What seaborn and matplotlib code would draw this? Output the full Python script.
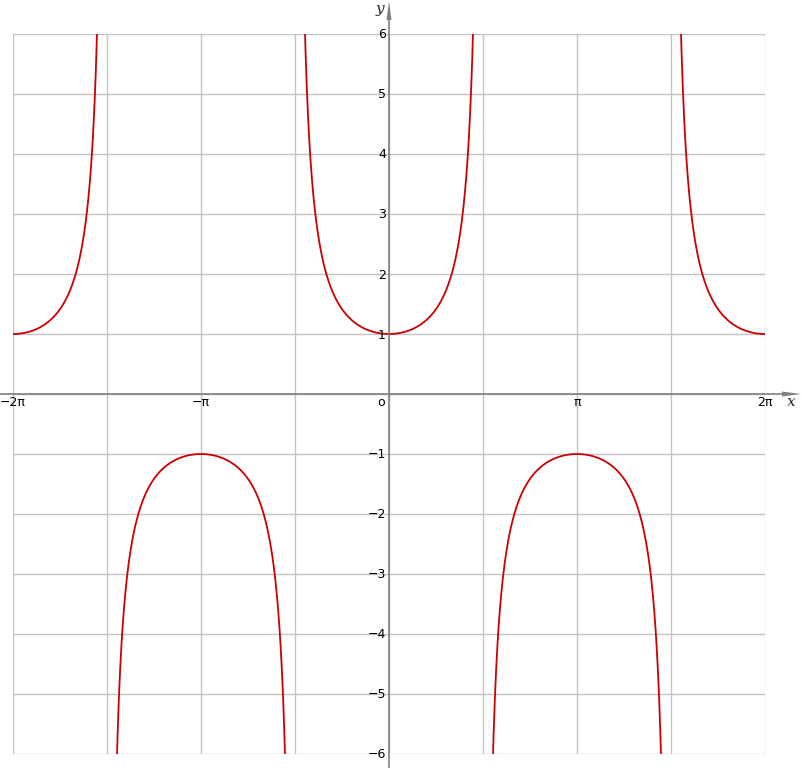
import numpy as np
import pandas as pd
import matplotlib
matplotlib.use("Agg")
import matplotlib.pyplot as plt
import seaborn as sns

# ---- data ----
# function plotted: y = sec(x) = 1 / cos(x)
x_min, x_max = -2 * np.pi, 2 * np.pi
y_min, y_max = -6, 6
# branches between the vertical asymptotes (odd multiples of pi/2)
branch_edges = [-2 * np.pi, -1.5 * np.pi, -0.5 * np.pi, 0.5 * np.pi, 1.5 * np.pi, 2 * np.pi]
x_ticks = [-2 * np.pi, -np.pi, np.pi, 2 * np.pi]
x_tick_labels = ["\u22122\u03c0", "\u2212\u03c0", "\u03c0", "2\u03c0"]
y_ticks = [-6, -5, -4, -3, -2, -1, 1, 2, 3, 4, 5, 6]
y_tick_labels = ["\u22126", "\u22125", "\u22124", "\u22123", "\u22122", "\u22121",
                 "1", "2", "3", "4", "5", "6"]
x_grid = [k * np.pi / 2 for k in range(-4, 5)]
y_grid = list(range(-6, 7))

frames = []
for i in range(len(branch_edges) - 1):
    a, b = branch_edges[i], branch_edges[i + 1]
    xs = np.linspace(a, b, 4000)
    if i != 0:
        xs = xs[xs > a + 1e-6]
    if i != len(branch_edges) - 2:
        xs = xs[xs < b - 1e-6]
    ys = 1.0 / np.cos(xs)
    keep = np.abs(ys) <= 6.3
    frames.append(pd.DataFrame({"x": xs[keep], "y": ys[keep], "branch": i}))
df = pd.concat(frames, ignore_index=True)

# ---- figure ----
sns.set_style("white")
W, H = 802, 768
fig = plt.figure(figsize=(W / 100, H / 100), dpi=100)
left, right, top, bottom = 13, 765, 34, 754
ax = fig.add_axes([left / W, 1 - bottom / H, (right - left) / W, (bottom - top) / H])
ax.set_xlim(x_min, x_max)
ax.set_ylim(y_min, y_max)
for s in ax.spines.values():
    s.set_visible(False)
ax.set_xticks([])
ax.set_yticks([])
ax.set_facecolor("white")

grid_c = "#c4c4c4"
for gx in x_grid:
    ax.axvline(gx, color=grid_c, lw=1.0, zorder=1)
for gy in y_grid:
    ax.axhline(gy, color=grid_c, lw=1.0, zorder=1)

sns.lineplot(data=df, x="x", y="y", units="branch", estimator=None, sort=False,
             color="#cc0000", lw=1.3, ax=ax, zorder=3, legend=False)
ax.set_xlabel("")
ax.set_ylabel("")

# axes lines (extend beyond plot area)
axis_c = "#808080"
def fx(px):
    return px / W
def fy(py):
    return 1 - py / H
x0_px, y0_px = 389, 394
fig.add_artist(plt.Line2D([fx(0), fx(786)], [fy(y0_px), fy(y0_px)], color=axis_c, lw=1.2, zorder=4))
fig.add_artist(plt.Line2D([fx(x0_px), fx(x0_px)], [fy(768), fy(16)], color=axis_c, lw=1.2, zorder=4))
# arrowheads
fig.add_artist(plt.Polygon([[fx(782), fy(y0_px - 2.5)], [fx(801), fy(y0_px)], [fx(782), fy(y0_px + 2.5)]],
                           closed=True, color=axis_c, lw=0, zorder=4))
fig.add_artist(plt.Polygon([[fx(x0_px - 2.5), fy(20)], [fx(x0_px), fy(1)], [fx(x0_px + 2.5), fy(20)]],
                           closed=True, color=axis_c, lw=0, zorder=4))

# tick labels
tick_font = dict(fontsize=9, color="black", family="DejaVu Sans")
for xv, lab in zip(x_ticks, x_tick_labels):
    px = left + (xv - x_min) / (x_max - x_min) * (right - left)
    if xv == x_min:
        fig.text(fx(0), fy(402), lab, ha="left", va="center", **tick_font)
    else:
        fig.text(fx(px), fy(402), lab, ha="center", va="center", **tick_font)
for yv, lab in zip(y_ticks, y_tick_labels):
    py = top + (y_max - yv) / (y_max - y_min) * (bottom - top)
    fig.text(fx(386), fy(py + 1), lab, ha="right", va="center", **tick_font)
fig.text(fx(381), fy(402), "o", ha="center", va="center", **tick_font)

# axis names
fig.text(fx(791), fy(402), "x", ha="center", va="center", fontsize=11,
         style="italic", family="DejaVu Serif")
fig.text(fx(380), fy(9), "y", ha="center", va="center", fontsize=11,
         style="italic", family="DejaVu Serif")

fig.savefig("out.png", dpi=100, facecolor="white")
